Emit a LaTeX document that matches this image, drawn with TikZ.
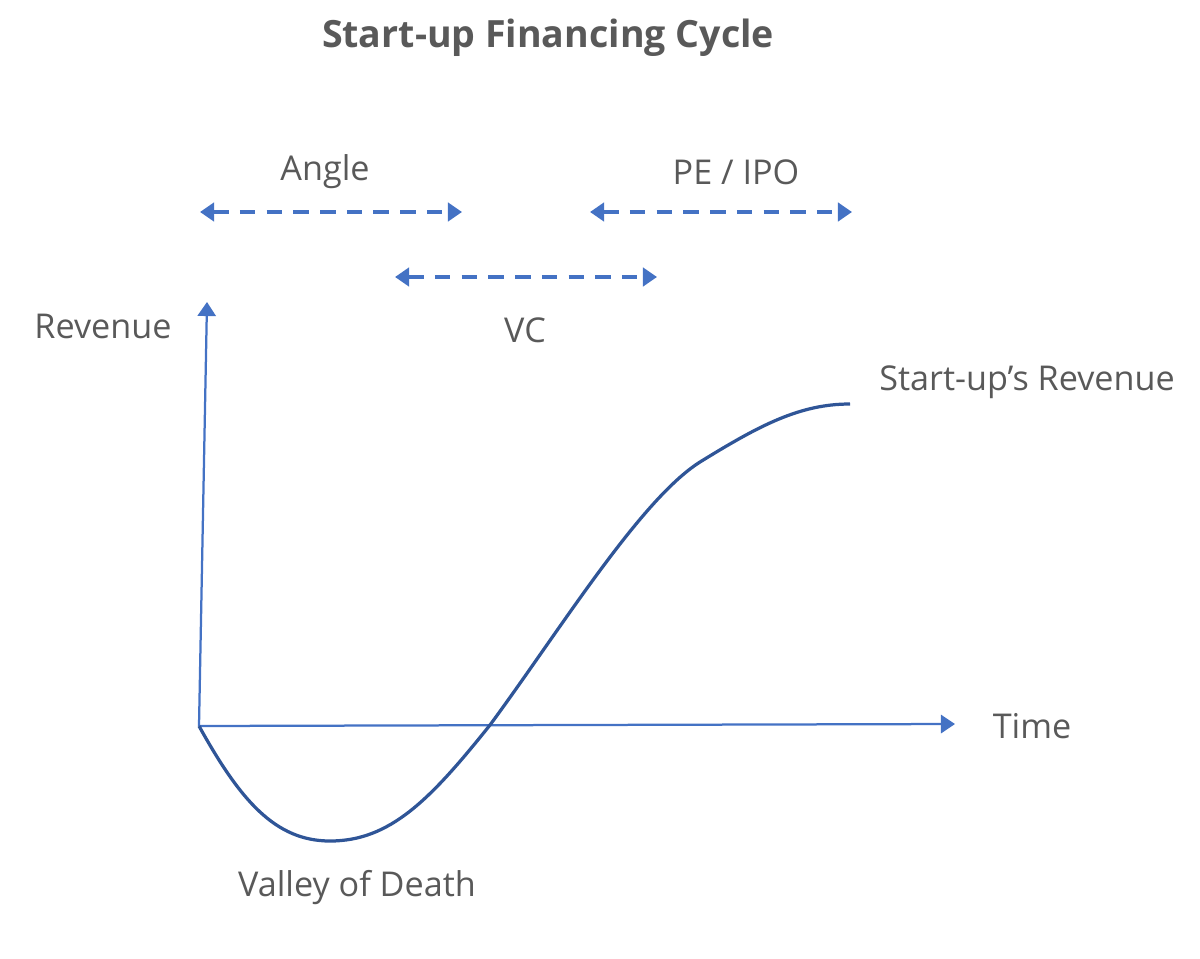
\documentclass[tikz,border=0pt]{standalone}
\usepackage{fontspec}
\setmainfont{Open Sans}
\usetikzlibrary{arrows.meta}
\definecolor{txt}{HTML}{595959}
\definecolor{axis}{HTML}{4472C4}
\definecolor{curve}{HTML}{2F5597}
\begin{document}
\begin{tikzpicture}[x=0.025cm,y=-0.025cm,
  lbl/.style={text=txt,font=\fontsize{24.3}{28}\selectfont,inner sep=0pt},
  ttl/.style={text=txt,font=\fontsize{26.7}{30}\selectfont\bfseries,inner sep=0pt},
  axisline/.style={draw=axis,line width=1.6pt,-{Triangle[length=10pt,width=13pt]}},
  spanarrow/.style={draw=axis,line width=2.6pt,dash pattern=on 11pt off 8pt,
    {Triangle[length=10pt,width=13pt]}-{Triangle[length=10pt,width=13pt]}},
  revcurve/.style={draw=curve,line width=2.3pt}]
\useasboundingbox (0,0) rectangle (1200,958);
% title
\node[ttl] (title) at (548,38) {Start-up Financing Cycle};
% ranges
\coordinate (a1) at (200,212); \coordinate (a2) at (462,212);
\coordinate (p1) at (590,212); \coordinate (p2) at (852,212);
\coordinate (v1) at (395,277); \coordinate (v2) at (657,277);
\draw[spanarrow] (a1) -- (a2);
\draw[spanarrow] (p1) -- (p2);
\draw[spanarrow] (v1) -- (v2);
\node[lbl] (angle) at (325,172) {Angle};
\node[lbl] (pe) at (736,172) {PE / IPO};
\node[lbl] (vc) at (525,330) {VC};
% axes
\coordinate (o) at (199,726);
\coordinate (ytop) at (207,302);
\coordinate (xend) at (955,724);
\draw[axisline] (o) -- (ytop);
\draw[axisline] (o) -- (xend);
\node[lbl] (rev) at (103,326) {Revenue};
\node[lbl] (time) at (1032,726) {Time};
% curve
\coordinate (cend) at (850,404);
\draw[revcurve] (o) .. controls (240,800) and (275,841) .. (330,841)
  .. controls (390,841) and (430,800) .. (490,725)
  .. controls (560,630) and (640,500) .. (700,462)
  .. controls (760,425) and (800,404) .. (cend);
\node[lbl] (vod) at (357,888) {Valley of Death};
\node[lbl,anchor=west] (srev) at (879,382) {Start-up’s Revenue};
\end{tikzpicture}
\end{document}
